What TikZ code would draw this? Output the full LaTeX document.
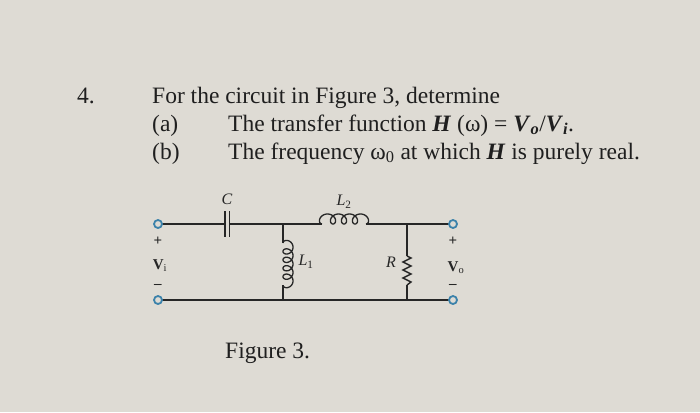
\documentclass[tikz,border=0pt]{standalone}
\usepackage{fontspec}
\setmainfont{Liberation Serif}
\definecolor{bg}{RGB}{222,219,212}
\definecolor{tc}{RGB}{60,130,170}
\begin{document}
\begin{tikzpicture}[x=1pt,y=-1pt,
  wire/.style={line width=1.6pt,color=black!85},
  coilw/.style={line width=1.3pt,color=black!85},
  term/.style={circle,draw=tc,line width=1.8pt,fill=bg,inner sep=0pt,minimum size=8pt},
  txt/.style={anchor=base west,inner sep=0pt,font=\fontsize{23.5}{26}\selectfont,text=black!88},
  lab/.style={inner sep=0pt,font=\fontsize{15}{16}\selectfont,text=black!85}]
\fill[bg] (0,0) rectangle (700,412);
\useasboundingbox (0,0) rectangle (700,412);
% text
\node[txt] (n4) at (77,103) {4.};
\node[txt] (l0) at (152,103) {For the circuit in Figure 3, determine};
\node[txt] (la) at (152,131) {(a)};
\node[txt] (ta) at (228,131) {The transfer function \textbf{\textit{H}} (ω) = \textbf{\textit{V}}\textsubscript{\textbf{\textit{o}}}/\textbf{\textit{V}}\textsubscript{\textbf{\textit{i}}}.};
\node[txt] (lb) at (152,159) {(b)};
\node[txt] (tb) at (228,159) {The frequency ω\textsubscript{0} at which \textbf{\textit{H}} is purely real.};
\node[txt] (fig) at (225,358) {Figure 3.};
% circuit coordinates
\coordinate (j1) at (283,224); \coordinate (j1b) at (283,300);
\coordinate (l2a) at (322,224); \coordinate (l2b) at (366,224);
\coordinate (j2) at (407,224); \coordinate (j2b) at (407,300);
\draw[wire] (158,224) -- (225,224);
\draw[wire] (229,224) -- (j1) -- (l2a);
\draw[wire] (l2b) -- (453,224);
\draw[wire] (158,300) -- (453,300);
% capacitor
\draw[wire] (225,211) -- (225,237); \draw[wire] (229.5,211) -- (229.5,237);
% L2
\draw[coilw] plot[domain=0:25.1327,samples=240,variable=\t] ({322+1.75*\t-5*sin(\t r)},{224-5*(1-cos(\t r))});
% L1
\draw[wire] (j1) -- (283,243);
\draw[coilw] plot[domain=0:31.4159,samples=280,variable=\t] ({283+5*(1-cos(\t r))},{243+1.34*\t-4.5*sin(\t r)});
\draw[wire] (283,285) -- (j1b);
% R
\draw[wire] (j2) -- (407,256);
\draw[wire,line width=1.4pt] (407,256) -- (411,258) -- (403,262) -- (411,266) -- (403,270) -- (411,274) -- (403,278) -- (411,282) -- (407,285);
\draw[wire] (407,285) -- (j2b);
% terminals
\node[term] (t1) at (158,224) {};
\node[term] (t2) at (158,300) {};
\node[term] (t3) at (453,224) {};
\node[term] (t4) at (453,300) {};
% labels
\node[lab,font=\fontsize{16}{16}\selectfont\itshape] (lc) at (227,199) {C};
\node[lab,font=\fontsize{16}{16}\selectfont\itshape] (ll2) at (344,202) {L\textsubscript{\upshape 2}};
\node[lab,font=\fontsize{16}{16}\selectfont\itshape] (ll1) at (306,262) {L\textsubscript{\upshape 1}};
\node[lab,font=\fontsize{16}{16}\selectfont\itshape] (lr) at (391,262) {R};
\node[lab] (p1) at (158,241) {\textbf{+}};
\node[lab] (vi) at (160,266) {\textbf{V}\textsubscript{i}};
\node[lab] (m1) at (158,286) {\textbf{–}};
\node[lab] (p2) at (453,241) {\textbf{+}};
\node[lab] (vo) at (456,268) {\textbf{V}\textsubscript{o}};
\node[lab] (m2) at (453,286) {\textbf{–}};
\end{tikzpicture}
\end{document}
